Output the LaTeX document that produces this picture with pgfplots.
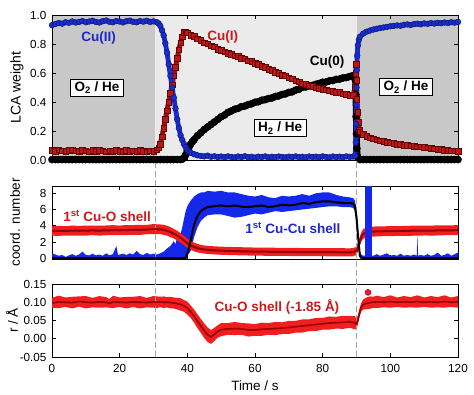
\documentclass[border=0pt]{standalone}
\usepackage{pgfplots}
\pgfplotsset{compat=1.18}
\usepackage{pgfplotstable}
\usepgfplotslibrary{fillbetween}
\usepackage{fontspec}
\setmainfont{Liberation Sans}
\definecolor{cuIIblue}{RGB}{25,45,205}
\definecolor{cuIIedge}{RGB}{10,20,110}
\definecolor{cuIred}{RGB}{185,25,25}
\definecolor{cuIline}{RGB}{150,20,20}
\definecolor{cuIedge}{RGB}{105,0,0}
\definecolor{bandred}{RGB}{240,30,30}
\definecolor{darkred}{RGB}{150,0,0}
\definecolor{bandblue}{RGB}{20,40,235}
\definecolor{txtred}{RGB}{205,25,25}
\definecolor{txtblue}{RGB}{30,40,200}
\definecolor{darkgray}{RGB}{200,200,200}
\definecolor{lightgray}{RGB}{235,235,235}
\definecolor{dashgray}{RGB}{165,165,165}
\pgfplotstableread[row sep=\\]{x y\\
0 0.930\\1 0.938\\2 0.945\\3 0.940\\4 0.950\\5 0.946\\6 0.955\\7 0.948\\8 0.952\\9 0.958\\10 0.950\\
11 0.955\\12 0.960\\13 0.952\\14 0.948\\15 0.957\\16 0.962\\17 0.953\\18 0.950\\19 0.958\\20 0.955\\
21 0.949\\22 0.957\\23 0.961\\24 0.953\\25 0.950\\26 0.958\\27 0.954\\28 0.960\\29 0.952\\30 0.956\\
31 0.950\\31.5 0.942\\32 0.925\\32.5 0.895\\33 0.860\\33.5 0.805\\34 0.740\\34.5 0.660\\35 0.580\\35.5 0.500\\
36 0.430\\36.5 0.355\\37 0.280\\37.5 0.220\\38 0.170\\38.5 0.138\\39 0.110\\39.5 0.088\\40 0.070\\40.5 0.058\\
41 0.050\\42 0.040\\43 0.032\\44 0.028\\45 0.025\\46 0.030\\47 0.022\\48 0.026\\49 0.020\\50 0.024\\
51 0.019\\52 0.025\\53 0.021\\54 0.018\\55 0.024\\56 0.020\\57 0.026\\58 0.019\\59 0.022\\60 0.017\\
61 0.023\\62 0.020\\63 0.025\\64 0.018\\65 0.022\\66 0.019\\67 0.024\\68 0.021\\69 0.018\\70 0.023\\
71 0.020\\72 0.025\\73 0.019\\74 0.022\\75 0.018\\76 0.024\\77 0.020\\78 0.023\\79 0.019\\80 0.025\\
81 0.021\\82 0.018\\83 0.024\\84 0.020\\85 0.023\\86 0.019\\87 0.025\\88 0.021\\89 0.024\\89.6 0.030\\
89.8 0.12\\89.9 0.25\\90.0 0.38\\90.0 0.50\\90.1 0.62\\90.2 0.72\\90.4 0.79\\90.7 0.83\\
91 0.850\\92 0.872\\93 0.885\\94 0.893\\95 0.900\\96 0.905\\97 0.910\\98 0.914\\99 0.918\\100 0.922\\
101 0.925\\102 0.928\\103 0.926\\104 0.932\\105 0.935\\106 0.931\\107 0.937\\108 0.940\\109 0.936\\110 0.942\\
111 0.939\\112 0.944\\113 0.941\\114 0.946\\115 0.943\\116 0.948\\117 0.945\\118 0.950\\119 0.947\\120 0.952\\
}\tabCuII
\pgfplotstableread[row sep=\\]{x y\\
0 .068\\1 .062\\2 .070\\3 .065\\4 .060\\5 .068\\6 .072\\7 .064\\8 .060\\9 .067\\10 .063\\
11 .058\\12 .066\\13 .061\\14 .069\\15 .063\\16 .057\\17 .065\\18 .060\\19 .068\\20 .062\\
21 .058\\22 .066\\23 .061\\24 .064\\25 .059\\26 .067\\27 .062\\28 .058\\29 .065\\30 .060\\
31 .070\\31.5 .085\\32 .110\\32.5 .160\\33 .220\\33.5 .280\\34 .340\\34.5 .400\\35 .460\\35.5 .520\\
36 .580\\36.5 .640\\37 .700\\37.5 .760\\38 .810\\38.5 .850\\39 .880\\39.5 .885\\40 .878\\
41 .862\\42 .852\\43 .836\\44 .826\\45 .810\\46 .802\\47 .788\\48 .780\\49 .765\\50 .758\\
51 .748\\52 .738\\53 .730\\54 .720\\55 .714\\56 .704\\57 .698\\58 .686\\59 .680\\60 .668\\
61 .662\\62 .648\\63 .642\\64 .626\\65 .618\\66 .606\\67 .600\\68 .586\\69 .580\\70 .567\\
71 .560\\72 .546\\73 .540\\74 .525\\75 .522\\76 .512\\77 .508\\78 .498\\79 .496\\80 .488\\
81 .486\\82 .478\\83 .475\\84 .468\\85 .466\\86 .458\\87 .455\\88 .448\\89 .445\\
89.6 .50\\89.8 .60\\89.9 .66\\90 .55\\90.1 .42\\90.3 .33\\90.5 .26\\90.8 .21\\
91 .195\\92 .178\\93 .166\\94 .155\\95 .146\\96 .140\\97 .134\\98 .128\\99 .124\\100 .118\\
101 .116\\102 .110\\103 .108\\104 .104\\105 .102\\106 .098\\107 .097\\108 .092\\109 .091\\110 .087\\
111 .085\\112 .080\\113 .079\\114 .075\\115 .073\\116 .069\\117 .068\\118 .064\\119 .063\\120 .060\\
}\tabCuI
\pgfplotstableread[row sep=\\]{x y\\
0 .003\\1 .003\\2 .003\\3 .003\\4 .003\\5 .003\\6 .003\\7 .003\\8 .003\\9 .003\\10 .003\\
11 .003\\12 .003\\13 .003\\14 .003\\15 .003\\16 .003\\17 .003\\18 .003\\19 .003\\20 .003\\
21 .003\\22 .003\\23 .003\\24 .003\\25 .003\\26 .003\\27 .003\\28 .003\\29 .003\\30 .003\\
31 .003\\32 .003\\33 .003\\34 .003\\35 .003\\36 .003\\37 .003\\38 .003\\38.5 .006\\39 .015\\39.5 .035\\40 .065\\
40.5 .088\\41 .110\\41.5 .126\\42 .140\\43 .168\\44 .188\\45 .210\\46 .228\\47 .245\\48 .262\\49 .280\\50 .298\\
51 .310\\52 .328\\53 .338\\54 .350\\55 .356\\56 .368\\57 .372\\58 .382\\59 .388\\60 .398\\
61 .402\\62 .412\\63 .416\\64 .424\\65 .428\\66 .438\\67 .442\\68 .452\\69 .456\\70 .466\\
71 .470\\72 .482\\73 .488\\74 .502\\75 .504\\76 .512\\77 .514\\78 .522\\79 .528\\80 .536\\
81 .538\\82 .546\\83 .548\\84 .556\\85 .558\\86 .566\\87 .568\\88 .576\\89 .582\\
89.7 .55\\89.8 .45\\89.9 .30\\90 .18\\90.1 .08\\90.3 .02\\
91 .003\\92 .003\\93 .003\\94 .003\\95 .003\\96 .003\\97 .003\\98 .003\\99 .003\\100 .003\\
101 .003\\102 .003\\103 .003\\104 .003\\105 .003\\106 .003\\107 .003\\108 .003\\109 .003\\110 .003\\
111 .003\\112 .003\\113 .003\\114 .003\\115 .003\\116 .003\\117 .003\\118 .003\\119 .003\\120 .003\\
}\tabCuZero
\pgfplotstableread[row sep=\\]{x c w\\
0 3.35 0.58\\2 3.38 0.62\\4 3.36 0.58\\6 3.40 0.62\\8 3.38 0.60\\10 3.40 0.62\\12 3.42 0.58\\
14 3.40 0.62\\16 3.43 0.60\\18 3.45 0.62\\20 3.44 0.58\\22 3.47 0.62\\24 3.48 0.60\\26 3.50 0.62\\
28 3.53 0.58\\30 3.58 0.62\\32 3.56 0.60\\33 3.50 0.62\\34 3.38 0.60\\35 3.22 0.62\\36 3.02 0.58\\
37 2.78 0.60\\38 2.50 0.58\\39 2.18 0.58\\40 1.85 0.56\\41 1.58 0.54\\42 1.38 0.54\\43 1.24 0.52\\
44 1.14 0.50\\45 1.07 0.50\\46 1.02 0.50\\48 0.96 0.50\\50 0.92 0.50\\53 0.88 0.50\\56 0.85 0.50\\
60 0.81 0.50\\65 0.79 0.50\\70 0.77 0.50\\75 0.75 0.50\\80 0.74 0.50\\85 0.73 0.50\\88 0.72 0.50\\
89 0.74 0.50\\90 0.90 0.50\\90.5 1.40 0.52\\91 2.10 0.55\\91.5 2.70 0.58\\92 3.00 0.60\\93 3.18 0.62\\
94 3.25 0.60\\96 3.30 0.62\\98 3.32 0.60\\100 3.34 0.62\\103 3.36 0.60\\106 3.38 0.62\\110 3.40 0.60\\
113 3.41 0.62\\116 3.43 0.60\\120 3.45 0.62\\
}\tabCnCuO
\pgfplotstableread[row sep=\\]{x lo hi\\
0 0 0.60\\1 0 0.45\\2 0 0.30\\3 0 0.40\\4 0 0.15\\5 0 0.35\\6 0 0.50\\7 0 0.30\\8 0 0.45\\9 0 0.80\\
10 0 0.40\\11 0 0.35\\12 0 0.55\\13 0 0.35\\14 0 0.45\\15 0 0.30\\16 0 0.60\\17 0 0.35\\18 0 0.50\\
19 0 1.50\\19.5 0 0.40\\20 0 0.45\\21 0 0.55\\22 0 0.40\\23 0 0.60\\24 0 0.45\\25 0 0.90\\26 0 0.50\\
27 0 0.40\\28 0 0.65\\29 0 0.45\\30 0 0.55\\31 0 0.45\\32 0 0.60\\33 0 0.80\\34 0 1.20\\35 0 1.50\\
36 0 2.10\\36.5 0 1.70\\37 0 2.70\\37.5 0 2.20\\38 0 3.00\\38.5 0 3.80\\39 0 4.80\\39.5 0.1 5.80\\
40 0.3 6.40\\41 0.9 7.10\\42 2.6 7.60\\43 3.8 7.90\\44 4.6 8.10\\45 5.0 8.10\\46 5.3 8.30\\48 5.4 8.20\\
50 5.4 8.30\\52 5.2 8.10\\54 5.0 8.10\\56 5.1 7.90\\58 5.3 7.70\\60 5.5 7.60\\62 5.4 7.80\\64 5.6 7.50\\
66 5.8 7.40\\68 5.7 7.70\\70 5.8 7.60\\72 5.9 7.70\\74 6.0 7.90\\76 6.1 7.70\\78 6.2 8.00\\80 6.3 8.10\\
82 6.4 8.10\\84 6.4 7.80\\86 6.3 7.60\\88 6.3 7.50\\89 6.2 7.40\\89.5 5.9 7.10\\90 4.3 6.00\\
90.5 1.8 3.50\\91 0 0.80\\91.5 0 0.40\\92 0 0.30\\93 0 0.35\\94 0 0.30\\95 0 0.30\\96 0 0.50\\
97 0 0.30\\98 0 0.45\\99 0 0.60\\100 0 0.30\\101 0 0.40\\102 0 0.30\\103 0 0.55\\104 0 0.30\\
105 0 0.40\\106 0 0.30\\107 0 0.45\\107.8 0 0.30\\108 0 2.90\\108.2 0 0.30\\109 0 0.40\\110 0 0.30\\
111 0 0.50\\112 0 0.30\\113 0 0.40\\114 0 0.70\\115 0 0.30\\116 0 0.40\\117 0 0.60\\118 0 0.30\\
119 0 0.50\\120 0 0.70\\
}\tabCnCuCu
\pgfplotstableread[row sep=\\]{x y\\
0 0\\39.5 0\\40 0.6\\40.5 1.3\\41 2.2\\41.5 3.2\\42 4.1\\42.5 4.7\\43 5.2\\44 5.8\\45 6.1\\46 6.3\\
47 6.35\\48 6.4\\50 6.5\\52 6.4\\54 6.5\\56 6.35\\58 6.3\\60 6.4\\62 6.5\\64 6.3\\66 6.4\\68 6.6\\
70 6.5\\72 6.6\\74 6.8\\76 6.7\\78 6.9\\80 7.0\\82 7.0\\84 6.9\\86 6.8\\88 6.8\\89 6.75\\89.5 6.5\\
90 5.0\\90.5 2.5\\91 0.3\\91.5 0\\120 0\\
}\tabCnCuCuMid
\pgfplotstableread[row sep=\\]{x c w\\
0 0.098 0.014\\2 0.101 0.017\\4 0.100 0.013\\6 0.099 0.016\\8 0.102 0.014\\10 0.100 0.017\\
12 0.099 0.013\\14 0.101 0.016\\16 0.100 0.014\\17 0.097 0.012\\18 0.101 0.017\\20 0.100 0.013\\
22 0.099 0.016\\24 0.101 0.014\\26 0.100 0.017\\28 0.099 0.013\\30 0.101 0.016\\31 0.100 0.016\\
32 0.101 0.014\\33 0.100 0.016\\34 0.100 0.014\\35 0.099 0.016\\36 0.098 0.015\\37 0.096 0.016\\
38 0.094 0.017\\39 0.090 0.016\\40 0.084 0.018\\41 0.074 0.017\\42 0.062 0.018\\43 0.048 0.019\\
44 0.035 0.019\\45 0.022 0.020\\46 0.011 0.020\\47 0.005 0.019\\48 0.012 0.018\\49 0.020 0.017\\
50 0.025 0.018\\52 0.027 0.016\\54 0.028 0.018\\56 0.027 0.016\\58 0.024 0.018\\60 0.024 0.016\\
62 0.026 0.018\\64 0.027 0.016\\66 0.028 0.018\\68 0.029 0.016\\70 0.031 0.018\\72 0.033 0.016\\
74 0.035 0.018\\76 0.037 0.016\\78 0.039 0.018\\80 0.041 0.016\\82 0.043 0.018\\84 0.044 0.016\\
86 0.045 0.018\\88 0.046 0.016\\89.5 0.044 0.018\\90 0.040 0.014\\90.5 0.055 0.012\\91 0.075 0.012\\
91.5 0.088 0.012\\92 0.094 0.014\\93 0.097 0.016\\94 0.099 0.017\\95 0.100 0.015\\96 0.101 0.017\\
98 0.100 0.014\\100 0.102 0.017\\102 0.100 0.013\\104 0.101 0.016\\106 0.100 0.014\\108 0.102 0.017\\
110 0.100 0.013\\112 0.101 0.016\\114 0.100 0.014\\116 0.102 0.017\\118 0.100 0.013\\120 0.101 0.016\\
}\tabShift
\pgfplotsset{
  panel/.style={scale only axis, width=406pt, anchor=south west,
    xmin=0, xmax=120, xtick={0,20,...,120},
    tick align=inside, major tick length=4pt,
    axis line style={line width=0.8pt},
    every tick/.style={black, line width=0.6pt},
    tick label style={font=\fontsize{11.7}{12}\selectfont},
    label style={font=\fontsize{13.5}{14}\selectfont},
    /pgf/number format/assume math mode=true,
    yticklabel style={xshift=-2pt},
    xticklabel style={yshift=-4pt},
  },
}
\tikzset{
  lbl/.style={font=\bfseries\fontsize{13.5}{14}\selectfont},
  gasbox/.style={draw=black, fill=white, line width=1pt, inner xsep=4pt, inner ysep=2.5pt,
    font=\bfseries\fontsize{13.5}{14}\selectfont},
}
\begin{document}
\begin{tikzpicture}
\path (-52pt,-38pt) rectangle (422pt,357pt);
\draw[dashgray, line width=0.8pt, dash pattern=on 6pt off 3pt] (103.2pt,0pt) -- (103.2pt,197pt);
\draw[dashgray, line width=0.8pt, dash pattern=on 6pt off 3pt] (304.5pt,0pt) -- (304.5pt,197pt);
% bottom panel
\begin{axis}[panel, at={(0pt,0pt)}, height=73pt,
  ymin=-0.05, ymax=0.15, ytick={-0.05,0,0.05,0.10,0.15},
  yticklabel style={/pgf/number format/.cd, fixed, fixed zerofill, precision=2},
  xlabel={Time / s}, ylabel={r / Å},
  xlabel style={at={(axis description cs:0.5,0)}, anchor=center, yshift=-29pt},
  ylabel style={at={(axis description cs:0,0.5)}, anchor=center, yshift=40pt},
  ]
\addplot[name path=bu, draw=none] table[x=x, y expr=\thisrow{c}+\thisrow{w}] {\tabShift};
\addplot[name path=bl, draw=none] table[x=x, y expr=\thisrow{c}-\thisrow{w}] {\tabShift};
\addplot[bandred] fill between[of=bu and bl];
\addplot[darkred, line width=1.6pt] table[x=x, y=c] {\tabShift};
\addplot[only marks, mark=*, mark size=3pt, mark options={fill=bandred, draw=darkred, line width=0.4pt}] coordinates {(93.4,0.127)};
\node[lbl, text=txtred] at (axis cs:66.5,0.088) {Cu-O shell (-1.85 Å)};
\end{axis}
% middle panel
\begin{axis}[panel, at={(0pt,98pt)}, height=73pt,
  ymin=-0.1, ymax=8.9, ytick={0,2,4,6,8}, xticklabels={},
  ylabel={coord. number},
  ylabel style={at={(axis description cs:0,0.5)}, anchor=center, yshift=37pt},
  ]
\addplot[name path=cu, draw=none] table[x=x, y=hi] {\tabCnCuCu};
\addplot[name path=cl, draw=none] table[x=x, y=lo] {\tabCnCuCu};
\addplot[bandblue] fill between[of=cu and cl];
\addplot[name path=ou, draw=none] table[x=x, y expr=\thisrow{c}+\thisrow{w}] {\tabCnCuO};
\addplot[name path=ol, draw=none] table[x=x, y expr=\thisrow{c}-\thisrow{w}] {\tabCnCuO};
\addplot[bandred] fill between[of=ou and ol];
\addplot[darkred, line width=2pt] table[x=x, y=c] {\tabCnCuO};
\addplot[fill=bandblue, draw=none] coordinates {(92.5,-0.1) (92.5,8.9) (94.5,8.9) (94.5,-0.1)} -- cycle;
\addplot[black, line width=2pt] table {\tabCnCuCuMid};
\node[lbl, text=txtred] at (axis cs:16.3,5.25) {1\textsuperscript{st} Cu-O shell};
\node[lbl, text=txtblue] at (axis cs:71.2,3.77) {1\textsuperscript{st} Cu-Cu shell};
\end{axis}
% top panel
\begin{axis}[panel, at={(0pt,197pt)}, height=145pt,
  ymin=0, ymax=1, ytick={0,0.2,...,1.0}, xticklabels={},
  yticklabel style={/pgf/number format/.cd, fixed, fixed zerofill, precision=1},
  ylabel={LCA weight},
  ylabel style={at={(axis description cs:0,0.5)}, anchor=center, yshift=35pt, font=\fontsize{14}{15}\selectfont},
  axis on top,
  ]
\fill[darkgray] (axis cs:0,0) rectangle (axis cs:30.5,1);
\fill[lightgray] (axis cs:30.5,0) rectangle (axis cs:90,1);
\fill[darkgray] (axis cs:90,0) rectangle (axis cs:120,1);
\addplot[black, line width=6.5pt, line join=round] table {\tabCuZero};
\addplot[only marks, mark=*, mark size=3.6pt, mark options={fill=black, draw=black}] table {\tabCuZero};
\addplot[cuIline, line width=5pt, line join=round] table {\tabCuI};
\addplot[only marks, mark=square*, mark size=2.8pt, mark options={fill=cuIred, draw=cuIedge, line width=0.4pt}] table {\tabCuI};
\addplot[cuIIblue, line width=4.8pt, line join=round] table {\tabCuII};
\addplot[only marks, mark=*, mark size=2.9pt, mark options={fill=cuIIblue, draw=cuIIedge, line width=0.4pt}] table {\tabCuII};
\node[lbl, text=txtblue] at (axis cs:13.8,0.843) {Cu(II)};
\node[lbl, text=txtred] at (axis cs:50.5,0.848) {Cu(I)};
\node[lbl, text=black] at (axis cs:81.3,0.676) {Cu(0)};
\node[gasbox] at (axis cs:13.3,0.497) {O\textsubscript{2} / He};
\node[gasbox] at (axis cs:67.4,0.22) {H\textsubscript{2} / He};
\node[gasbox] at (axis cs:104.6,0.503) {O\textsubscript{2} / He};
\end{axis}
\end{tikzpicture}
\end{document}
